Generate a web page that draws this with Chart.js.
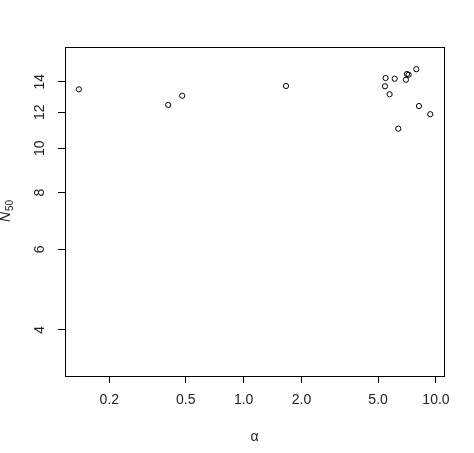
<!DOCTYPE html>
<html>
<head>
<meta charset="utf-8">
<script src="https://cdn.jsdelivr.net/npm/chart.js@4/dist/chart.umd.min.js"></script>
<style>
  html, body { margin: 0; padding: 0; background: #fff; }
  #wrap { width: 474px; height: 453px; }
</style>
</head>
<body>
<div id="wrap"><canvas id="plot"></canvas></div>
<script>
// values
const alpha = [0.139, 0.405, 0.479, 1.66, 5.47, 6.10, 5.43, 5.74, 7.07, 7.21, 6.98, 7.90, 8.16, 9.34, 6.37];
const n50 = [13.47, 12.45, 13.04, 13.70, 14.26, 14.21, 13.68, 13.14, 14.55, 14.50, 14.14, 14.91, 12.38, 11.88, 11.04];

const xTicks = [0.2, 0.5, 1, 2, 5, 10];
const xTickLabels = ["0.2", "0.5", "1.0", "2.0", "5.0", "10.0"];
const yTicks = [4, 6, 8, 10, 12, 14];
const yTickLabels = ["4", "6", "8", "10", "12", "14"];

const FONT = "Liberation Sans, Arial, sans-serif";

// R-style full box round the plot region plus the axis titles
const frame = {
  id: "frame",
  afterDraw(chart) {
    const { ctx, chartArea: a } = chart;
    ctx.save();
    ctx.strokeStyle = "#000";
    ctx.lineWidth = 1;
    ctx.strokeRect(Math.round(a.left) + 0.5, Math.round(a.top) + 0.5,
      Math.round(a.right - a.left), Math.round(a.bottom - a.top));

    ctx.fillStyle = "#222";
    ctx.font = `14px ${FONT}`;
    ctx.textAlign = "center";
    ctx.textBaseline = "middle";
    ctx.fillText("\u03b1", (a.left + a.right) / 2, 437);

    // N with subscript 50, rotated
    ctx.translate(6, (a.top + a.bottom) / 2);
    ctx.rotate(-Math.PI / 2);
    ctx.font = `italic 14px ${FONT}`;
    const wN = ctx.measureText("N").width;
    ctx.font = `10px ${FONT}`;
    const wS = ctx.measureText("50").width;
    const start = -(wN + wS) / 2;
    ctx.textAlign = "left";
    ctx.font = `italic 14px ${FONT}`;
    ctx.fillText("N", start, 0);
    ctx.font = `10px ${FONT}`;
    ctx.fillText("50", start + wN + 1, 4);
    ctx.restore();
  }
};

new Chart(document.getElementById("plot"), {
  type: "scatter",
  data: {
    datasets: [{
      data: alpha.map((a, i) => ({ x: a, y: n50[i] })),
      pointStyle: "circle",
      pointRadius: 2.6,
      pointBorderWidth: 1,
      pointBorderColor: "#000",
      pointBackgroundColor: "rgba(0,0,0,0)"
    }]
  },
  options: {
    responsive: true,
    maintainAspectRatio: false,
    animation: false,
    events: [],
    layout: { padding: { top: 47, right: 30, left: 0, bottom: 0 } },
    plugins: { legend: { display: false }, tooltip: { enabled: false } },
    scales: {
      x: {
        type: "logarithmic",
        min: 0.1177,
        max: 11.01,
        afterBuildTicks: (s) => { s.ticks = xTicks.map((v) => ({ value: v })); },
        afterFit: (s) => { s.height = 77; },
        border: { display: false },
        grid: { drawOnChartArea: false, drawTicks: true, tickLength: 7, color: "#000" },
        ticks: {
          color: "#222",
          font: { family: FONT, size: 14 },
          padding: 9,
          maxRotation: 0,
          autoSkip: false,
          callback: (v) => xTickLabels[xTicks.indexOf(v)] ?? ""
        }
      },
      y: {
        type: "logarithmic",
        min: 3.167,
        max: 16.68,
        afterBuildTicks: (s) => { s.ticks = yTicks.map((v) => ({ value: v })); },
        afterFit: (s) => { s.width = 65; },
        border: { display: false },
        grid: { drawOnChartArea: false, drawTicks: true, tickLength: 7, color: "#000" },
        ticks: {
          color: "#222",
          font: { family: FONT, size: 14 },
          padding: 10,
          minRotation: 90,
          maxRotation: 90,
          crossAlign: "center",
          autoSkip: false,
          callback: (v) => yTickLabels[yTicks.indexOf(v)] ?? ""
        }
      }
    }
  },
  plugins: [frame]
});
</script>
</body>
</html>
